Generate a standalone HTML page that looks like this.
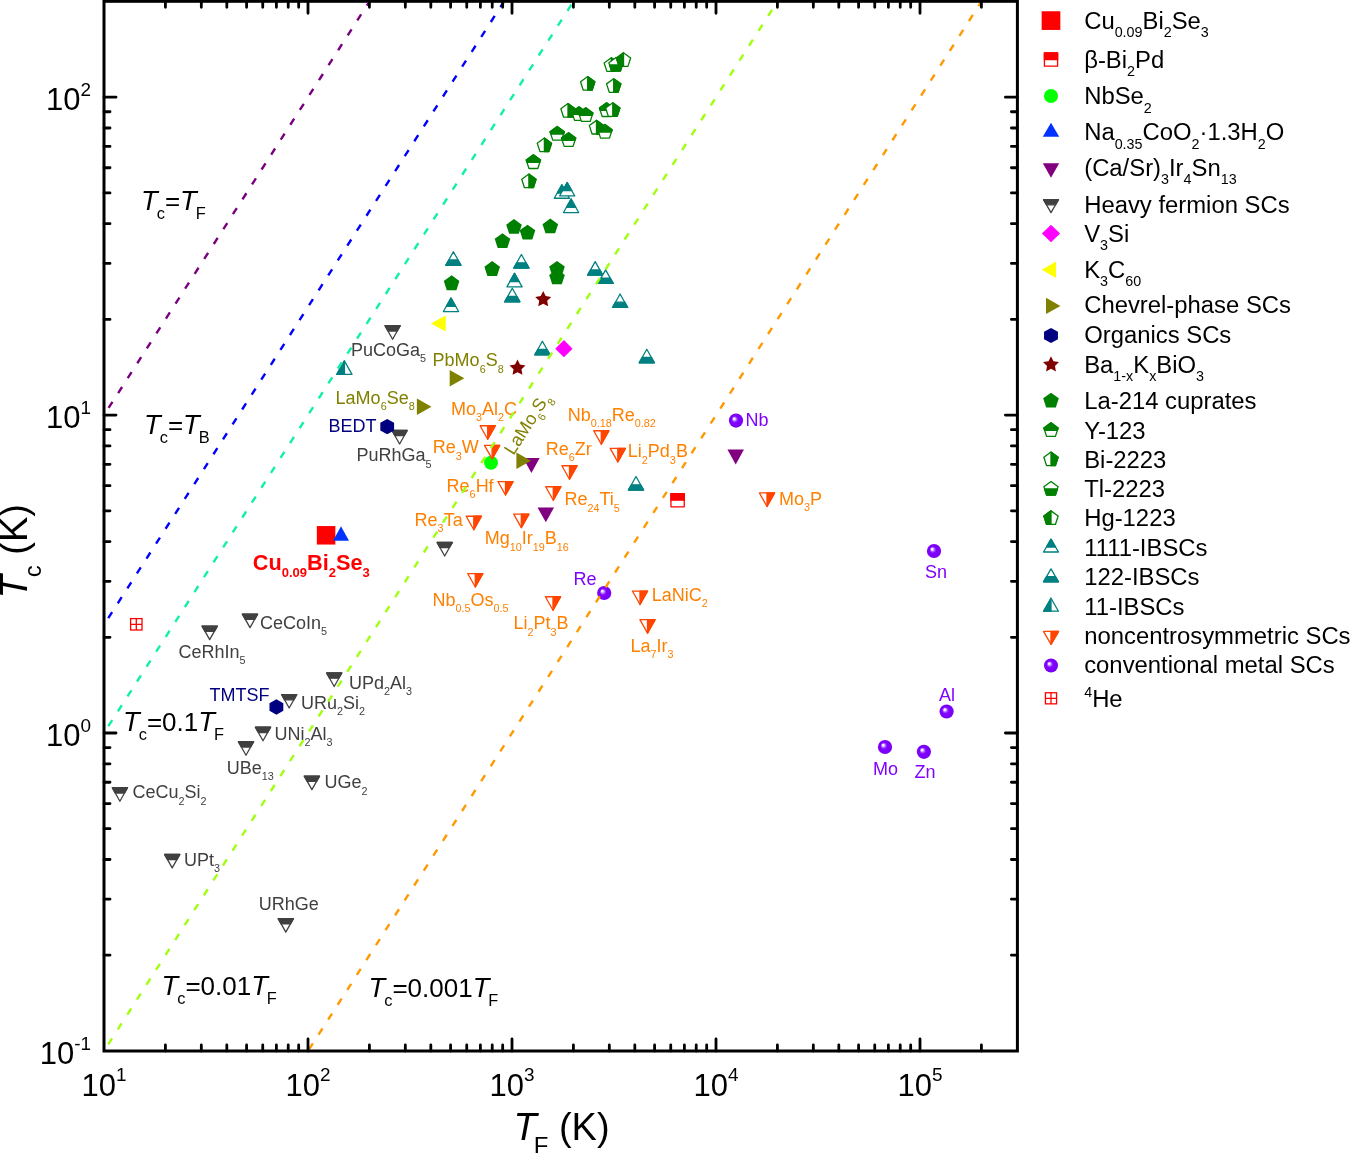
<!DOCTYPE html><html><head><meta charset="utf-8"><style>html,body{margin:0;padding:0;background:#fff;}svg{display:block;will-change:transform;}</style></head><body><svg width="1350" height="1153" viewBox="0 0 1350 1153" font-family='"Liberation Sans", sans-serif'><defs><clipPath id="frame"><rect x="105.5" y="2.8" width="910.4" height="1046.7"/></clipPath><radialGradient id="sph" cx="0.5" cy="0.5" r="0.5" fx="0.35" fy="0.35"><stop offset="0" stop-color="#fff"/><stop offset="0.12" stop-color="#f6eeff"/><stop offset="0.32" stop-color="#a050ff"/><stop offset="0.48" stop-color="#8000ff"/><stop offset="1" stop-color="#7800f4"/></radialGradient></defs><rect width="1350" height="1153" fill="#fff"/><text x="104" y="1095.7" font-size="31" fill="#000" text-anchor="middle"><tspan>10</tspan><tspan dy="-14.26" font-size="18.91">1</tspan></text>
<text x="308" y="1095.7" font-size="31" fill="#000" text-anchor="middle"><tspan>10</tspan><tspan dy="-14.26" font-size="18.91">2</tspan></text>
<text x="512" y="1095.7" font-size="31" fill="#000" text-anchor="middle"><tspan>10</tspan><tspan dy="-14.26" font-size="18.91">3</tspan></text>
<text x="716" y="1095.7" font-size="31" fill="#000" text-anchor="middle"><tspan>10</tspan><tspan dy="-14.26" font-size="18.91">4</tspan></text>
<text x="920" y="1095.7" font-size="31" fill="#000" text-anchor="middle"><tspan>10</tspan><tspan dy="-14.26" font-size="18.91">5</tspan></text>
<text x="91" y="1063.9" font-size="31" fill="#000" text-anchor="end"><tspan>10</tspan><tspan dy="-14.26" font-size="18.91">-1</tspan></text>
<text x="91" y="746" font-size="31" fill="#000" text-anchor="end"><tspan>10</tspan><tspan dy="-14.26" font-size="18.91">0</tspan></text>
<text x="91" y="428.1" font-size="31" fill="#000" text-anchor="end"><tspan>10</tspan><tspan dy="-14.26" font-size="18.91">1</tspan></text>
<text x="91" y="110.2" font-size="31" fill="#000" text-anchor="end"><tspan>10</tspan><tspan dy="-14.26" font-size="18.91">2</tspan></text>
<text x="513.5" y="1140" font-size="38" fill="#000"><tspan font-style="italic">T</tspan><tspan dy="14.06" dx="-3" font-size="23.94">F</tspan><tspan dy="-14.06"> (K)</tspan></text>
<text x="0" y="0" font-size="38" fill="#000" transform="translate(27.2 598.5) rotate(-90)"><tspan font-style="italic">T</tspan><tspan dy="14.06" dx="-2" font-size="23.94">c</tspan><tspan dy="-14.06"> (K)</tspan></text>
<text x="141" y="210.4" font-size="26" fill="#000"><tspan font-size="27.3" font-style="italic">T</tspan><tspan dy="8.84" dx="-1" font-size="16.38">c</tspan><tspan dy="-8.84">=</tspan><tspan font-size="27.3" font-style="italic">T</tspan><tspan dy="8.84" dx="-1" font-size="16.38">F</tspan></text>
<text x="144" y="433.7" font-size="26" fill="#000"><tspan font-size="27.3" font-style="italic">T</tspan><tspan dy="8.84" dx="-1" font-size="16.38">c</tspan><tspan dy="-8.84">=</tspan><tspan font-size="27.3" font-style="italic">T</tspan><tspan dy="8.84" dx="-1" font-size="16.38">B</tspan></text>
<text x="123" y="731.3" font-size="26" fill="#000"><tspan font-size="27.3" font-style="italic">T</tspan><tspan dy="8.84" dx="-1" font-size="16.38">c</tspan><tspan dy="-8.84">=0.1</tspan><tspan font-size="27.3" font-style="italic">T</tspan><tspan dy="8.84" dx="-1" font-size="16.38">F</tspan></text>
<text x="161.5" y="995.4" font-size="26" fill="#000"><tspan font-size="27.3" font-style="italic">T</tspan><tspan dy="8.84" dx="-1" font-size="16.38">c</tspan><tspan dy="-8.84">=0.01</tspan><tspan font-size="27.3" font-style="italic">T</tspan><tspan dy="8.84" dx="-1" font-size="16.38">F</tspan></text>
<text x="368.5" y="996.8" font-size="26" fill="#000"><tspan font-size="27.3" font-style="italic">T</tspan><tspan dy="8.84" dx="-1" font-size="16.38">c</tspan><tspan dy="-8.84">=0.001</tspan><tspan font-size="27.3" font-style="italic">T</tspan><tspan dy="8.84" dx="-1" font-size="16.38">F</tspan></text>
<polygon points="611.3,57.78 618.45,62.98 615.72,71.38 606.88,71.38 604.15,62.98" fill="#fff" stroke="#008000" stroke-width="1.3" stroke-linejoin="round"/>
<polygon points="611.3,57.78 618.45,62.98 615.72,71.38 611.3,71.38 611.3,57.78" fill="#008000" stroke="#008000" stroke-width="1.3" stroke-linejoin="round"/>
<polygon points="616,57.48 623.15,62.68 620.42,71.08 611.58,71.08 608.85,62.68" fill="#fff" stroke="#008000" stroke-width="1.3" stroke-linejoin="round"/>
<polygon points="622.4,65 620.42,71.08 611.58,71.08 609.6,65" fill="#008000" stroke="#008000" stroke-width="1.3" stroke-linejoin="round"/>
<polygon points="623.5,52.78 630.65,57.98 627.92,66.38 619.08,66.38 616.35,57.98" fill="#fff" stroke="#008000" stroke-width="1.3" stroke-linejoin="round"/>
<polygon points="623.5,52.78 623.5,52.78 623.5,66.38 619.08,66.38 616.35,57.98" fill="#008000" stroke="#008000" stroke-width="1.3" stroke-linejoin="round"/>
<polygon points="568,103.58 575.15,108.78 572.42,117.18 563.58,117.18 560.85,108.78" fill="#fff" stroke="#008000" stroke-width="1.3" stroke-linejoin="round"/>
<polygon points="568,103.58 575.15,108.78 572.42,117.18 568,117.18 568,103.58" fill="#008000" stroke="#008000" stroke-width="1.3" stroke-linejoin="round"/>
<polygon points="579,106.78 586.15,111.98 583.42,120.38 574.58,120.38 571.85,111.98" fill="#fff" stroke="#008000" stroke-width="1.3" stroke-linejoin="round"/>
<polygon points="579,106.78 586.15,111.98 585.4,114.3 572.6,114.3 571.85,111.98" fill="#008000" stroke="#008000" stroke-width="1.3" stroke-linejoin="round"/>
<polygon points="585.8,107.78 592.95,112.98 590.22,121.38 581.38,121.38 578.65,112.98" fill="#fff" stroke="#008000" stroke-width="1.3" stroke-linejoin="round"/>
<polygon points="585.8,107.78 592.95,112.98 592.2,115.3 579.4,115.3 578.65,112.98" fill="#008000" stroke="#008000" stroke-width="1.3" stroke-linejoin="round"/>
<polygon points="606.6,102.88 613.75,108.08 611.02,116.48 602.18,116.48 599.45,108.08" fill="#fff" stroke="#008000" stroke-width="1.3" stroke-linejoin="round"/>
<polygon points="606.6,102.88 613.75,108.08 613,110.4 600.2,110.4 599.45,108.08" fill="#008000" stroke="#008000" stroke-width="1.3" stroke-linejoin="round"/>
<polygon points="612.8,102.78 619.95,107.98 617.22,116.38 608.38,116.38 605.65,107.98" fill="#fff" stroke="#008000" stroke-width="1.3" stroke-linejoin="round"/>
<polygon points="612.8,102.78 619.95,107.98 617.22,116.38 612.8,116.38 612.8,102.78" fill="#008000" stroke="#008000" stroke-width="1.3" stroke-linejoin="round"/>
<polygon points="596.5,120.38 603.65,125.58 600.92,133.98 592.08,133.98 589.35,125.58" fill="#fff" stroke="#008000" stroke-width="1.3" stroke-linejoin="round"/>
<polygon points="596.5,120.38 603.65,125.58 600.92,133.98 596.5,133.98 596.5,120.38" fill="#008000" stroke="#008000" stroke-width="1.3" stroke-linejoin="round"/>
<polygon points="605,124.48 612.15,129.68 609.42,138.08 600.58,138.08 597.85,129.68" fill="#fff" stroke="#008000" stroke-width="1.3" stroke-linejoin="round"/>
<polygon points="605,124.48 612.15,129.68 611.4,132 598.6,132 597.85,129.68" fill="#008000" stroke="#008000" stroke-width="1.3" stroke-linejoin="round"/>
<polygon points="557.2,126.48 564.35,131.68 561.62,140.08 552.78,140.08 550.05,131.68" fill="#fff" stroke="#008000" stroke-width="1.3" stroke-linejoin="round"/>
<polygon points="557.2,126.48 564.35,131.68 563.6,134 550.8,134 550.05,131.68" fill="#008000" stroke="#008000" stroke-width="1.3" stroke-linejoin="round"/>
<polygon points="568.6,132.78 575.75,137.98 573.02,146.38 564.18,146.38 561.45,137.98" fill="#fff" stroke="#008000" stroke-width="1.3" stroke-linejoin="round"/>
<polygon points="568.6,132.78 575.75,137.98 575,140.3 562.2,140.3 561.45,137.98" fill="#008000" stroke="#008000" stroke-width="1.3" stroke-linejoin="round"/>
<polygon points="587.7,76.58 594.85,81.78 592.12,90.18 583.28,90.18 580.55,81.78" fill="#fff" stroke="#008000" stroke-width="1.3" stroke-linejoin="round"/>
<polygon points="587.7,76.58 594.85,81.78 592.12,90.18 587.7,90.18 587.7,76.58" fill="#008000" stroke="#008000" stroke-width="1.3" stroke-linejoin="round"/>
<polygon points="613.7,78.68 620.85,83.88 618.12,92.28 609.28,92.28 606.55,83.88" fill="#fff" stroke="#008000" stroke-width="1.3" stroke-linejoin="round"/>
<polygon points="613.7,78.68 620.85,83.88 618.12,92.28 613.7,92.28 613.7,78.68" fill="#008000" stroke="#008000" stroke-width="1.3" stroke-linejoin="round"/>
<polygon points="544.4,137.98 551.55,143.18 548.82,151.58 539.98,151.58 537.25,143.18" fill="#fff" stroke="#008000" stroke-width="1.3" stroke-linejoin="round"/>
<polygon points="544.4,137.98 551.55,143.18 548.82,151.58 544.4,151.58 544.4,137.98" fill="#008000" stroke="#008000" stroke-width="1.3" stroke-linejoin="round"/>
<polygon points="533.4,154.88 540.55,160.08 537.82,168.48 528.98,168.48 526.25,160.08" fill="#fff" stroke="#008000" stroke-width="1.3" stroke-linejoin="round"/>
<polygon points="533.4,154.88 540.55,160.08 539.8,162.4 527,162.4 526.25,160.08" fill="#008000" stroke="#008000" stroke-width="1.3" stroke-linejoin="round"/>
<polygon points="528.9,174.08 536.05,179.28 533.32,187.68 524.48,187.68 521.75,179.28" fill="#fff" stroke="#008000" stroke-width="1.3" stroke-linejoin="round"/>
<polygon points="528.9,174.08 536.05,179.28 533.32,187.68 528.9,187.68 528.9,174.08" fill="#008000" stroke="#008000" stroke-width="1.3" stroke-linejoin="round"/>
<polygon points="514,219 521.8,224.67 518.82,233.84 509.18,233.84 506.2,224.67" fill="#008000"/>
<polygon points="527.5,224.7 535.3,230.37 532.32,239.54 522.68,239.54 519.7,230.37" fill="#008000"/>
<polygon points="550.3,218.5 558.1,224.17 555.12,233.34 545.48,233.34 542.5,224.17" fill="#008000"/>
<polygon points="502.5,233.2 510.3,238.87 507.32,248.04 497.68,248.04 494.7,238.87" fill="#008000"/>
<polygon points="492.2,261.1 500,266.77 497.02,275.94 487.38,275.94 484.4,266.77" fill="#008000"/>
<polygon points="557,260.9 564.8,266.57 561.82,275.74 552.18,275.74 549.2,266.57" fill="#008000"/>
<polygon points="557,269.3 564.8,274.97 561.82,284.14 552.18,284.14 549.2,274.97" fill="#008000"/>
<polygon points="451.6,275.3 459.4,280.97 456.42,290.14 446.78,290.14 443.8,280.97" fill="#008000"/>
<polygon points="561.9,184.75 569.5,198.25 554.3,198.25" fill="#fff" stroke="#008080" stroke-width="1.3" stroke-linejoin="round"/>
<polygon points="561.9,184.75 566.53,192.98 557.27,192.98" fill="#008080" stroke="#008080" stroke-width="1.3" stroke-linejoin="round"/>
<polygon points="567.2,182.45 574.8,195.95 559.6,195.95" fill="#fff" stroke="#008080" stroke-width="1.3" stroke-linejoin="round"/>
<polygon points="567.2,182.45 571.83,190.68 562.57,190.68" fill="#008080" stroke="#008080" stroke-width="1.3" stroke-linejoin="round"/>
<polygon points="571.1,199.05 578.7,212.55 563.5,212.55" fill="#fff" stroke="#008080" stroke-width="1.3" stroke-linejoin="round"/>
<polygon points="571.1,199.05 575.73,207.28 566.47,207.28" fill="#008080" stroke="#008080" stroke-width="1.3" stroke-linejoin="round"/>
<polygon points="451,298.05 458.6,311.55 443.4,311.55" fill="#fff" stroke="#008080" stroke-width="1.3" stroke-linejoin="round"/>
<polygon points="451,298.05 455.63,306.28 446.37,306.28" fill="#008080" stroke="#008080" stroke-width="1.3" stroke-linejoin="round"/>
<polygon points="514.5,273.35 522.1,286.85 506.9,286.85" fill="#fff" stroke="#008080" stroke-width="1.3" stroke-linejoin="round"/>
<polygon points="514.5,273.35 519.13,281.58 509.87,281.58" fill="#008080" stroke="#008080" stroke-width="1.3" stroke-linejoin="round"/>
<polygon points="453.4,251.75 461,265.25 445.8,265.25" fill="#fff" stroke="#008080" stroke-width="1.3" stroke-linejoin="round"/>
<polygon points="458.03,259.98 461,265.25 445.8,265.25 448.77,259.98" fill="#008080" stroke="#008080" stroke-width="1.3" stroke-linejoin="round"/>
<polygon points="521.4,254.55 529,268.05 513.8,268.05" fill="#fff" stroke="#008080" stroke-width="1.3" stroke-linejoin="round"/>
<polygon points="526.03,262.78 529,268.05 513.8,268.05 516.77,262.78" fill="#008080" stroke="#008080" stroke-width="1.3" stroke-linejoin="round"/>
<polygon points="512.3,288.25 519.9,301.75 504.7,301.75" fill="#fff" stroke="#008080" stroke-width="1.3" stroke-linejoin="round"/>
<polygon points="516.93,296.48 519.9,301.75 504.7,301.75 507.67,296.48" fill="#008080" stroke="#008080" stroke-width="1.3" stroke-linejoin="round"/>
<polygon points="595.2,261.65 602.8,275.15 587.6,275.15" fill="#fff" stroke="#008080" stroke-width="1.3" stroke-linejoin="round"/>
<polygon points="599.83,269.88 602.8,275.15 587.6,275.15 590.57,269.88" fill="#008080" stroke="#008080" stroke-width="1.3" stroke-linejoin="round"/>
<polygon points="605.6,269.85 613.2,283.35 598,283.35" fill="#fff" stroke="#008080" stroke-width="1.3" stroke-linejoin="round"/>
<polygon points="610.23,278.08 613.2,283.35 598,283.35 600.97,278.08" fill="#008080" stroke="#008080" stroke-width="1.3" stroke-linejoin="round"/>
<polygon points="620.1,293.95 627.7,307.45 612.5,307.45" fill="#fff" stroke="#008080" stroke-width="1.3" stroke-linejoin="round"/>
<polygon points="624.73,302.18 627.7,307.45 612.5,307.45 615.47,302.18" fill="#008080" stroke="#008080" stroke-width="1.3" stroke-linejoin="round"/>
<polygon points="542.4,341.25 550,354.75 534.8,354.75" fill="#fff" stroke="#008080" stroke-width="1.3" stroke-linejoin="round"/>
<polygon points="547.03,349.48 550,354.75 534.8,354.75 537.77,349.48" fill="#008080" stroke="#008080" stroke-width="1.3" stroke-linejoin="round"/>
<polygon points="646.8,349.25 654.4,362.75 639.2,362.75" fill="#fff" stroke="#008080" stroke-width="1.3" stroke-linejoin="round"/>
<polygon points="651.43,357.48 654.4,362.75 639.2,362.75 642.17,357.48" fill="#008080" stroke="#008080" stroke-width="1.3" stroke-linejoin="round"/>
<polygon points="636,476.55 643.6,490.05 628.4,490.05" fill="#fff" stroke="#008080" stroke-width="1.3" stroke-linejoin="round"/>
<polygon points="640.63,484.78 643.6,490.05 628.4,490.05 631.37,484.78" fill="#008080" stroke="#008080" stroke-width="1.3" stroke-linejoin="round"/>
<polygon points="344.4,360.85 352,374.35 336.8,374.35" fill="#fff" stroke="#008080" stroke-width="1.3" stroke-linejoin="round"/>
<polygon points="344.4,360.85 344.4,360.85 344.4,374.35 336.8,374.35" fill="#008080" stroke="#008080" stroke-width="1.3" stroke-linejoin="round"/>
<circle cx="491" cy="462.7" r="7" fill="#00FF00"/>
<polygon points="523.15,458.1 539.65,458.1 531.4,472.9" fill="#800080"/>
<polygon points="537.55,507.5 554.05,507.5 545.8,522.3" fill="#800080"/>
<polygon points="727.45,449.6 743.95,449.6 735.7,464.4" fill="#800080"/>
<polygon points="385,325.75 400.2,325.75 392.6,339.25" fill="#fff" stroke="#404040" stroke-width="1.3" stroke-linejoin="round"/>
<polygon points="385,325.75 400.2,325.75 397.23,331.02 387.97,331.02" fill="#404040" stroke="#404040" stroke-width="1.3" stroke-linejoin="round"/>
<polygon points="392,430.45 407.2,430.45 399.6,443.95" fill="#fff" stroke="#404040" stroke-width="1.3" stroke-linejoin="round"/>
<polygon points="392,430.45 407.2,430.45 404.23,435.72 394.97,435.72" fill="#404040" stroke="#404040" stroke-width="1.3" stroke-linejoin="round"/>
<polygon points="202.1,626.15 217.3,626.15 209.7,639.65" fill="#fff" stroke="#404040" stroke-width="1.3" stroke-linejoin="round"/>
<polygon points="202.1,626.15 217.3,626.15 214.33,631.42 205.07,631.42" fill="#404040" stroke="#404040" stroke-width="1.3" stroke-linejoin="round"/>
<polygon points="242.4,614.15 257.6,614.15 250,627.65" fill="#fff" stroke="#404040" stroke-width="1.3" stroke-linejoin="round"/>
<polygon points="242.4,614.15 257.6,614.15 254.63,619.42 245.37,619.42" fill="#404040" stroke="#404040" stroke-width="1.3" stroke-linejoin="round"/>
<polygon points="281.6,694.55 296.8,694.55 289.2,708.05" fill="#fff" stroke="#404040" stroke-width="1.3" stroke-linejoin="round"/>
<polygon points="281.6,694.55 296.8,694.55 293.83,699.82 284.57,699.82" fill="#404040" stroke="#404040" stroke-width="1.3" stroke-linejoin="round"/>
<polygon points="326.6,672.95 341.8,672.95 334.2,686.45" fill="#fff" stroke="#404040" stroke-width="1.3" stroke-linejoin="round"/>
<polygon points="326.6,672.95 341.8,672.95 338.83,678.22 329.57,678.22" fill="#404040" stroke="#404040" stroke-width="1.3" stroke-linejoin="round"/>
<polygon points="255.4,727.25 270.6,727.25 263,740.75" fill="#fff" stroke="#404040" stroke-width="1.3" stroke-linejoin="round"/>
<polygon points="255.4,727.25 270.6,727.25 267.63,732.52 258.37,732.52" fill="#404040" stroke="#404040" stroke-width="1.3" stroke-linejoin="round"/>
<polygon points="238.4,741.75 253.6,741.75 246,755.25" fill="#fff" stroke="#404040" stroke-width="1.3" stroke-linejoin="round"/>
<polygon points="238.4,741.75 253.6,741.75 250.63,747.02 241.37,747.02" fill="#404040" stroke="#404040" stroke-width="1.3" stroke-linejoin="round"/>
<polygon points="112.3,787.75 127.5,787.75 119.9,801.25" fill="#fff" stroke="#404040" stroke-width="1.3" stroke-linejoin="round"/>
<polygon points="112.3,787.75 127.5,787.75 124.53,793.02 115.27,793.02" fill="#404040" stroke="#404040" stroke-width="1.3" stroke-linejoin="round"/>
<polygon points="304.3,776.15 319.5,776.15 311.9,789.65" fill="#fff" stroke="#404040" stroke-width="1.3" stroke-linejoin="round"/>
<polygon points="304.3,776.15 319.5,776.15 316.53,781.42 307.27,781.42" fill="#404040" stroke="#404040" stroke-width="1.3" stroke-linejoin="round"/>
<polygon points="164.6,854.35 179.8,854.35 172.2,867.85" fill="#fff" stroke="#404040" stroke-width="1.3" stroke-linejoin="round"/>
<polygon points="164.6,854.35 179.8,854.35 176.83,859.62 167.57,859.62" fill="#404040" stroke="#404040" stroke-width="1.3" stroke-linejoin="round"/>
<polygon points="278.2,918.65 293.4,918.65 285.8,932.15" fill="#fff" stroke="#404040" stroke-width="1.3" stroke-linejoin="round"/>
<polygon points="278.2,918.65 293.4,918.65 290.43,923.92 281.17,923.92" fill="#404040" stroke="#404040" stroke-width="1.3" stroke-linejoin="round"/>
<polygon points="437.1,542.45 452.3,542.45 444.7,555.95" fill="#fff" stroke="#404040" stroke-width="1.3" stroke-linejoin="round"/>
<polygon points="437.1,542.45 452.3,542.45 449.33,547.72 440.07,547.72" fill="#404040" stroke="#404040" stroke-width="1.3" stroke-linejoin="round"/>
<polygon points="387.2,418.9 394.1,422.75 394.1,430.45 387.2,434.3 380.3,430.45 380.3,422.75" fill="#000080"/>
<polygon points="276.4,699.3 283.3,703.15 283.3,710.85 276.4,714.7 269.5,710.85 269.5,703.15" fill="#000080"/>
<polygon points="416.9,398.6 431.5,406.8 416.9,415" fill="#808000"/>
<polygon points="449.7,370.1 464.3,378.3 449.7,386.5" fill="#808000"/>
<polygon points="516.4,452.5 531,460.7 516.4,468.9" fill="#808000"/>
<polygon points="430.9,323.5 445.7,315.6 445.7,331.4" fill="#FFFF00"/>
<polygon points="563.9,340.1 572.6,348.7 563.9,357.3 555.2,348.7" fill="#FF00FF"/>
<polygon points="543.2,291.1 545.67,296.1 551.19,296.9 547.19,300.8 548.14,306.29 543.2,303.7 538.26,306.29 539.21,300.8 535.21,296.9 540.73,296.1" fill="#800000"/>
<polygon points="517.5,359.6 519.97,364.6 525.49,365.4 521.49,369.3 522.44,374.79 517.5,372.2 512.56,374.79 513.51,369.3 509.51,365.4 515.03,364.6" fill="#800000"/>
<polygon points="480.1,425.75 495.3,425.75 487.7,439.25" fill="#fff" stroke="#FF4500" stroke-width="1.3" stroke-linejoin="round"/>
<polygon points="487.7,425.75 495.3,425.75 487.7,439.25 487.7,439.25" fill="#FF4500" stroke="#FF4500" stroke-width="1.3" stroke-linejoin="round"/>
<polygon points="484.5,445.35 499.7,445.35 492.1,458.85" fill="#fff" stroke="#FF4500" stroke-width="1.3" stroke-linejoin="round"/>
<polygon points="492.1,445.35 499.7,445.35 492.1,458.85 492.1,458.85" fill="#FF4500" stroke="#FF4500" stroke-width="1.3" stroke-linejoin="round"/>
<polygon points="497.9,481.55 513.1,481.55 505.5,495.05" fill="#fff" stroke="#FF4500" stroke-width="1.3" stroke-linejoin="round"/>
<polygon points="505.5,481.55 513.1,481.55 505.5,495.05 505.5,495.05" fill="#FF4500" stroke="#FF4500" stroke-width="1.3" stroke-linejoin="round"/>
<polygon points="561.9,465.75 577.1,465.75 569.5,479.25" fill="#fff" stroke="#FF4500" stroke-width="1.3" stroke-linejoin="round"/>
<polygon points="569.5,465.75 577.1,465.75 569.5,479.25 569.5,479.25" fill="#FF4500" stroke="#FF4500" stroke-width="1.3" stroke-linejoin="round"/>
<polygon points="545.7,486.75 560.9,486.75 553.3,500.25" fill="#fff" stroke="#FF4500" stroke-width="1.3" stroke-linejoin="round"/>
<polygon points="553.3,486.75 560.9,486.75 553.3,500.25 553.3,500.25" fill="#FF4500" stroke="#FF4500" stroke-width="1.3" stroke-linejoin="round"/>
<polygon points="513.7,514.15 528.9,514.15 521.3,527.65" fill="#fff" stroke="#FF4500" stroke-width="1.3" stroke-linejoin="round"/>
<polygon points="521.3,514.15 528.9,514.15 521.3,527.65 521.3,527.65" fill="#FF4500" stroke="#FF4500" stroke-width="1.3" stroke-linejoin="round"/>
<polygon points="466.2,516.25 481.4,516.25 473.8,529.75" fill="#fff" stroke="#FF4500" stroke-width="1.3" stroke-linejoin="round"/>
<polygon points="473.8,516.25 481.4,516.25 473.8,529.75 473.8,529.75" fill="#FF4500" stroke="#FF4500" stroke-width="1.3" stroke-linejoin="round"/>
<polygon points="593.7,430.75 608.9,430.75 601.3,444.25" fill="#fff" stroke="#FF4500" stroke-width="1.3" stroke-linejoin="round"/>
<polygon points="601.3,430.75 608.9,430.75 601.3,444.25 601.3,444.25" fill="#FF4500" stroke="#FF4500" stroke-width="1.3" stroke-linejoin="round"/>
<polygon points="610.2,448.35 625.4,448.35 617.8,461.85" fill="#fff" stroke="#FF4500" stroke-width="1.3" stroke-linejoin="round"/>
<polygon points="617.8,448.35 625.4,448.35 617.8,461.85 617.8,461.85" fill="#FF4500" stroke="#FF4500" stroke-width="1.3" stroke-linejoin="round"/>
<polygon points="759.4,492.95 774.6,492.95 767,506.45" fill="#fff" stroke="#FF4500" stroke-width="1.3" stroke-linejoin="round"/>
<polygon points="767,492.95 774.6,492.95 767,506.45 767,506.45" fill="#FF4500" stroke="#FF4500" stroke-width="1.3" stroke-linejoin="round"/>
<polygon points="467.7,573.55 482.9,573.55 475.3,587.05" fill="#fff" stroke="#FF4500" stroke-width="1.3" stroke-linejoin="round"/>
<polygon points="475.3,573.55 482.9,573.55 475.3,587.05 475.3,587.05" fill="#FF4500" stroke="#FF4500" stroke-width="1.3" stroke-linejoin="round"/>
<polygon points="545.4,596.75 560.6,596.75 553,610.25" fill="#fff" stroke="#FF4500" stroke-width="1.3" stroke-linejoin="round"/>
<polygon points="553,596.75 560.6,596.75 553,610.25 553,610.25" fill="#FF4500" stroke="#FF4500" stroke-width="1.3" stroke-linejoin="round"/>
<polygon points="632.4,591.05 647.6,591.05 640,604.55" fill="#fff" stroke="#FF4500" stroke-width="1.3" stroke-linejoin="round"/>
<polygon points="640,591.05 647.6,591.05 640,604.55 640,604.55" fill="#FF4500" stroke="#FF4500" stroke-width="1.3" stroke-linejoin="round"/>
<polygon points="639.9,619.65 655.1,619.65 647.5,633.15" fill="#fff" stroke="#FF4500" stroke-width="1.3" stroke-linejoin="round"/>
<polygon points="647.5,619.65 655.1,619.65 647.5,633.15 647.5,633.15" fill="#FF4500" stroke="#FF4500" stroke-width="1.3" stroke-linejoin="round"/>
<polygon points="316.85,526.05 335.35,526.05 335.35,544.55 316.85,544.55" fill="#FF0000"/>
<polygon points="341,526.3 349,540.7 333,540.7" fill="#0033FF"/>
<polygon points="670.95,493.55 684.25,493.55 684.25,506.85 670.95,506.85" fill="#fff" stroke="#FF0000" stroke-width="1.3" stroke-linejoin="round"/>
<polygon points="670.95,493.55 684.25,493.55 684.25,500.2 670.95,500.2" fill="#FF0000" stroke="#FF0000" stroke-width="1.3" stroke-linejoin="round"/>
<circle cx="736" cy="420.6" r="7.1" fill="url(#sph)"/>
<circle cx="604.2" cy="593" r="7.1" fill="url(#sph)"/>
<circle cx="934" cy="551" r="7.1" fill="url(#sph)"/>
<circle cx="946.6" cy="711.5" r="7.1" fill="url(#sph)"/>
<circle cx="885" cy="747" r="7.1" fill="url(#sph)"/>
<circle cx="923.9" cy="751.8" r="7.1" fill="url(#sph)"/>
<g fill="none" stroke="#FF0000" stroke-width="1.3"><rect x="130.6" y="618.6" width="11.4" height="11.4"/><path d="M136.3 618.6V630M130.6 624.3H142"/></g>
<text x="351" y="355.5" font-size="18" fill="#404040"><tspan>PuCoGa</tspan><tspan dy="6.48" font-size="10.8">5</tspan></text>
<text x="356.5" y="461.3" font-size="18" fill="#404040"><tspan>PuRhGa</tspan><tspan dy="6.48" font-size="10.8">5</tspan></text>
<text x="178.5" y="658" font-size="18" fill="#404040"><tspan>CeRhIn</tspan><tspan dy="6.48" font-size="10.8">5</tspan></text>
<text x="260" y="628.7" font-size="18" fill="#404040"><tspan>CeCoIn</tspan><tspan dy="6.48" font-size="10.8">5</tspan></text>
<text x="301" y="709" font-size="18" fill="#404040"><tspan>URu</tspan><tspan dy="6.48" font-size="10.8">2</tspan><tspan dy="-6.48">Si</tspan><tspan dy="6.48" font-size="10.8">2</tspan></text>
<text x="349" y="688.7" font-size="18" fill="#404040"><tspan>UPd</tspan><tspan dy="6.48" font-size="10.8">2</tspan><tspan dy="-6.48">Al</tspan><tspan dy="6.48" font-size="10.8">3</tspan></text>
<text x="274.5" y="739.6" font-size="18" fill="#404040"><tspan>UNi</tspan><tspan dy="6.48" font-size="10.8">2</tspan><tspan dy="-6.48">Al</tspan><tspan dy="6.48" font-size="10.8">3</tspan></text>
<text x="226.7" y="774" font-size="18" fill="#404040"><tspan>UBe</tspan><tspan dy="6.48" font-size="10.8">13</tspan></text>
<text x="132.5" y="798.3" font-size="18" fill="#404040"><tspan>CeCu</tspan><tspan dy="6.48" font-size="10.8">2</tspan><tspan dy="-6.48">Si</tspan><tspan dy="6.48" font-size="10.8">2</tspan></text>
<text x="324.5" y="788.1" font-size="18" fill="#404040"><tspan>UGe</tspan><tspan dy="6.48" font-size="10.8">2</tspan></text>
<text x="184" y="865.9" font-size="18" fill="#404040"><tspan>UPt</tspan><tspan dy="6.48" font-size="10.8">3</tspan></text>
<text x="258.8" y="909.9" font-size="18" fill="#404040"><tspan>URhGe</tspan></text>
<text x="335.6" y="403.7" font-size="18" fill="#808000"><tspan>LaMo</tspan><tspan dy="6.48" font-size="10.8">6</tspan><tspan dy="-6.48">Se</tspan><tspan dy="6.48" font-size="10.8">8</tspan></text>
<text x="432.6" y="366.1" font-size="18" fill="#808000"><tspan>PbMo</tspan><tspan dy="6.48" font-size="10.8">6</tspan><tspan dy="-6.48">S</tspan><tspan dy="6.48" font-size="10.8">8</tspan></text>
<text x="0" y="0" font-size="18" fill="#808000" transform="translate(513.5 456) rotate(-57.3)"><tspan>LaMo</tspan><tspan dy="6.48" font-size="10.8">6</tspan><tspan dy="-6.48">S</tspan><tspan dy="6.48" font-size="10.8">8</tspan></text>
<text x="328.6" y="432.1" font-size="18" fill="#000080"><tspan>BEDT</tspan></text>
<text x="209.4" y="701.3" font-size="18" fill="#000080"><tspan>TMTSF</tspan></text>
<text x="451" y="414.7" font-size="18" fill="#FF8000"><tspan>Mo</tspan><tspan dy="6.48" font-size="10.8">3</tspan><tspan dy="-6.48">Al</tspan><tspan dy="6.48" font-size="10.8">2</tspan><tspan dy="-6.48">C</tspan></text>
<text x="432.7" y="453.3" font-size="18" fill="#FF8000"><tspan>Re</tspan><tspan dy="6.48" font-size="10.8">3</tspan><tspan dy="-6.48">W</tspan></text>
<text x="446.6" y="491.8" font-size="18" fill="#FF8000"><tspan>Re</tspan><tspan dy="6.48" font-size="10.8">6</tspan><tspan dy="-6.48">Hf</tspan></text>
<text x="414.6" y="525.5" font-size="18" fill="#FF8000"><tspan>Re</tspan><tspan dy="6.48" font-size="10.8">3</tspan><tspan dy="-6.48">Ta</tspan></text>
<text x="545.8" y="455" font-size="18" fill="#FF8000"><tspan>Re</tspan><tspan dy="6.48" font-size="10.8">6</tspan><tspan dy="-6.48">Zr</tspan></text>
<text x="567.8" y="420.5" font-size="18" fill="#FF8000"><tspan>Nb</tspan><tspan dy="6.48" font-size="10.8">0.18</tspan><tspan dy="-6.48">Re</tspan><tspan dy="6.48" font-size="10.8">0.82</tspan></text>
<text x="627.8" y="457.3" font-size="18" fill="#FF8000"><tspan>Li</tspan><tspan dy="6.48" font-size="10.8">2</tspan><tspan dy="-6.48">Pd</tspan><tspan dy="6.48" font-size="10.8">3</tspan><tspan dy="-6.48">B</tspan></text>
<text x="564.4" y="505.2" font-size="18" fill="#FF8000"><tspan>Re</tspan><tspan dy="6.48" font-size="10.8">24</tspan><tspan dy="-6.48">Ti</tspan><tspan dy="6.48" font-size="10.8">5</tspan></text>
<text x="484.8" y="544.3" font-size="18" fill="#FF8000"><tspan>Mg</tspan><tspan dy="6.48" font-size="10.8">10</tspan><tspan dy="-6.48">Ir</tspan><tspan dy="6.48" font-size="10.8">19</tspan><tspan dy="-6.48">B</tspan><tspan dy="6.48" font-size="10.8">16</tspan></text>
<text x="432.5" y="605.6" font-size="18" fill="#FF8000"><tspan>Nb</tspan><tspan dy="6.48" font-size="10.8">0.5</tspan><tspan dy="-6.48">Os</tspan><tspan dy="6.48" font-size="10.8">0.5</tspan></text>
<text x="513.5" y="629.3" font-size="18" fill="#FF8000"><tspan>Li</tspan><tspan dy="6.48" font-size="10.8">2</tspan><tspan dy="-6.48">Pt</tspan><tspan dy="6.48" font-size="10.8">3</tspan><tspan dy="-6.48">B</tspan></text>
<text x="651.8" y="600.9" font-size="18" fill="#FF8000"><tspan>LaNiC</tspan><tspan dy="6.48" font-size="10.8">2</tspan></text>
<text x="630.5" y="651.9" font-size="18" fill="#FF8000"><tspan>La</tspan><tspan dy="6.48" font-size="10.8">7</tspan><tspan dy="-6.48">Ir</tspan><tspan dy="6.48" font-size="10.8">3</tspan></text>
<text x="779" y="504.9" font-size="18" fill="#FF8000"><tspan>Mo</tspan><tspan dy="6.48" font-size="10.8">3</tspan><tspan dy="-6.48">P</tspan></text>
<text x="745.4" y="425.8" font-size="18" fill="#8000FF"><tspan>Nb</tspan></text>
<text x="573.6" y="585.1" font-size="18" fill="#8000FF"><tspan>Re</tspan></text>
<text x="925" y="578" font-size="18" fill="#8000FF"><tspan>Sn</tspan></text>
<text x="939" y="700.8" font-size="18" fill="#8000FF"><tspan>Al</tspan></text>
<text x="873.1" y="775.2" font-size="18" fill="#8000FF"><tspan>Mo</tspan></text>
<text x="914.6" y="778.3" font-size="18" fill="#8000FF"><tspan>Zn</tspan></text>
<text x="252.8" y="569.6" font-size="21.7" fill="#FF0000" font-weight="bold"><tspan>Cu</tspan><tspan dy="7.81" font-size="13.02">0.09</tspan><tspan dy="-7.81">Bi</tspan><tspan dy="7.81" font-size="13.02">2</tspan><tspan dy="-7.81">Se</tspan><tspan dy="7.81" font-size="13.02">3</tspan></text>
<g clip-path="url(#frame)">
<line x1="104" y1="415.1" x2="369.54" y2="1.3" stroke="#780080" stroke-width="2.4" stroke-dasharray="7.2 10.51" stroke-dashoffset="9.23"/>
<line x1="104" y1="624.77" x2="504.09" y2="1.3" stroke="#0000FF" stroke-width="2.4" stroke-dasharray="7.2 10.51" stroke-dashoffset="9.89"/>
<line x1="104" y1="733" x2="573.54" y2="1.3" stroke="#10F0A8" stroke-width="2.4" stroke-dasharray="7.2 10.51" stroke-dashoffset="9.66"/>
<line x1="104" y1="1050.9" x2="777.54" y2="1.3" stroke="#A0FF10" stroke-width="2.4" stroke-dasharray="7.2 10.51" stroke-dashoffset="9.95"/>
<line x1="308" y1="1051" x2="981.6" y2="1.3" stroke="#FF9900" stroke-width="2.4" stroke-dasharray="7.2 10.51" stroke-dashoffset="15.88"/>
</g>
<polygon points="1041.65,11.25 1060.35,11.25 1060.35,29.95 1041.65,29.95" fill="#FF0000"/>
<text x="1084.2" y="29.1" font-size="23.85" fill="#000"><tspan>Cu</tspan><tspan dy="8.35" font-size="14.31">0.09</tspan><tspan dy="-8.35">Bi</tspan><tspan dy="8.35" font-size="14.31">2</tspan><tspan dy="-8.35">Se</tspan><tspan dy="8.35" font-size="14.31">3</tspan></text>
<polygon points="1044.4,53 1057.6,53 1057.6,66.2 1044.4,66.2" fill="#fff" stroke="#FF0000" stroke-width="1.3" stroke-linejoin="round"/>
<polygon points="1044.4,53 1057.6,53 1057.6,59.6 1044.4,59.6" fill="#FF0000" stroke="#FF0000" stroke-width="1.3" stroke-linejoin="round"/>
<text x="1084.2" y="67.94" font-size="23.85" fill="#000"><tspan>β-Bi</tspan><tspan dy="8.35" font-size="14.31">2</tspan><tspan dy="-8.35">Pd</tspan></text>
<circle cx="1051" cy="96" r="7" fill="#00FF00"/>
<text x="1084.2" y="104.17" font-size="23.85" fill="#000"><tspan>NbSe</tspan><tspan dy="8.35" font-size="14.31">2</tspan></text>
<polygon points="1051,122.8 1059.2,136.8 1042.8,136.8" fill="#0033FF"/>
<text x="1084.2" y="140.4" font-size="23.85" fill="#000"><tspan>Na</tspan><tspan dy="8.35" font-size="14.31">0.35</tspan><tspan dy="-8.35">CoO</tspan><tspan dy="8.35" font-size="14.31">2</tspan><tspan dy="-8.35">·1.3H</tspan><tspan dy="8.35" font-size="14.31">2</tspan><tspan dy="-8.35">O</tspan></text>
<polygon points="1042.8,163.15 1059.2,163.15 1051,177.65" fill="#800080"/>
<text x="1084.2" y="175.93" font-size="23.85" fill="#000"><tspan>(Ca/Sr)</tspan><tspan dy="8.35" font-size="14.31">3</tspan><tspan dy="-8.35">Ir</tspan><tspan dy="8.35" font-size="14.31">4</tspan><tspan dy="-8.35">Sn</tspan><tspan dy="8.35" font-size="14.31">13</tspan></text>
<polygon points="1043.55,199.75 1058.45,199.75 1051,212.65" fill="#fff" stroke="#404040" stroke-width="1.3" stroke-linejoin="round"/>
<polygon points="1043.55,199.75 1058.45,199.75 1055.55,204.78 1046.45,204.78" fill="#404040" stroke="#404040" stroke-width="1.3" stroke-linejoin="round"/>
<text x="1084.2" y="212.56" font-size="23.85" fill="#000"><tspan>Heavy fermion SCs</tspan></text>
<polygon points="1051,224.85 1060.1,233.5 1051,242.15 1041.9,233.5" fill="#FF00FF"/>
<text x="1084.2" y="241.59" font-size="23.85" fill="#000"><tspan>V</tspan><tspan dy="8.35" font-size="14.31">3</tspan><tspan dy="-8.35">Si</tspan></text>
<polygon points="1041.8,269.8 1056,261.6 1056,278" fill="#FFFF00"/>
<text x="1084.2" y="278.02" font-size="23.85" fill="#000"><tspan>K</tspan><tspan dy="8.35" font-size="14.31">3</tspan><tspan dy="-8.35">C</tspan><tspan dy="8.35" font-size="14.31">60</tspan></text>
<polygon points="1046,297.75 1060.4,305.9 1046,314.05" fill="#808000"/>
<text x="1084.2" y="312.75" font-size="23.85" fill="#000"><tspan>Chevrel-phase SCs</tspan></text>
<polygon points="1051,327.9 1057.95,331.7 1057.95,339.3 1051,343.1 1044.05,339.3 1044.05,331.7" fill="#000080"/>
<text x="1084.2" y="342.88" font-size="23.85" fill="#000"><tspan>Organics SCs</tspan></text>
<polygon points="1051,356.2 1053.47,361.2 1058.99,362 1054.99,365.9 1055.94,371.39 1051,368.8 1046.06,371.39 1047.01,365.9 1043.01,362 1048.53,361.2" fill="#800000"/>
<text x="1084.2" y="372.9" font-size="23.85" fill="#000"><tspan>Ba</tspan><tspan dy="8.35" font-size="14.31">1-x</tspan><tspan dy="-8.35">K</tspan><tspan dy="8.35" font-size="14.31">x</tspan><tspan dy="-8.35">BiO</tspan><tspan dy="8.35" font-size="14.31">3</tspan></text>
<polygon points="1051,392.68 1058.8,398.35 1055.82,407.52 1046.18,407.52 1043.2,398.35" fill="#008000"/>
<text x="1084.2" y="409.34" font-size="23.85" fill="#000"><tspan>La-214 cuprates</tspan></text>
<polygon points="1051,422.77 1058.15,427.96 1055.42,436.37 1046.58,436.37 1043.85,427.96" fill="#fff" stroke="#008000" stroke-width="1.3" stroke-linejoin="round"/>
<polygon points="1051,422.77 1058.15,427.96 1057.4,430.28 1044.6,430.28 1043.85,427.96" fill="#008000" stroke="#008000" stroke-width="1.3" stroke-linejoin="round"/>
<text x="1084.2" y="438.56" font-size="23.85" fill="#000"><tspan>Y-123</tspan></text>
<polygon points="1051,452.07 1058.15,457.26 1055.42,465.67 1046.58,465.67 1043.85,457.26" fill="#fff" stroke="#008000" stroke-width="1.3" stroke-linejoin="round"/>
<polygon points="1051,452.07 1058.15,457.26 1055.42,465.67 1051,465.67 1051,452.07" fill="#008000" stroke="#008000" stroke-width="1.3" stroke-linejoin="round"/>
<text x="1084.2" y="467.89" font-size="23.85" fill="#000"><tspan>Bi-2223</tspan></text>
<polygon points="1051,481.47 1058.15,486.66 1055.42,495.07 1046.58,495.07 1043.85,486.66" fill="#fff" stroke="#008000" stroke-width="1.3" stroke-linejoin="round"/>
<polygon points="1057.4,488.98 1055.42,495.07 1046.58,495.07 1044.6,488.98" fill="#008000" stroke="#008000" stroke-width="1.3" stroke-linejoin="round"/>
<text x="1084.2" y="497.21" font-size="23.85" fill="#000"><tspan>Tl-2223</tspan></text>
<polygon points="1051,510.87 1058.15,516.06 1055.42,524.47 1046.58,524.47 1043.85,516.06" fill="#fff" stroke="#008000" stroke-width="1.3" stroke-linejoin="round"/>
<polygon points="1051,510.87 1051,510.87 1051,524.47 1046.58,524.47 1043.85,516.06" fill="#008000" stroke="#008000" stroke-width="1.3" stroke-linejoin="round"/>
<text x="1084.2" y="526.44" font-size="23.85" fill="#000"><tspan>Hg-1223</tspan></text>
<polygon points="1051,539.2 1058.45,552 1043.55,552" fill="#fff" stroke="#008080" stroke-width="1.3" stroke-linejoin="round"/>
<polygon points="1051,539.2 1055.55,547.01 1046.45,547.01" fill="#008080" stroke="#008080" stroke-width="1.3" stroke-linejoin="round"/>
<text x="1084.2" y="556.27" font-size="23.85" fill="#000"><tspan>1111-IBSCs</tspan></text>
<polygon points="1051,568.85 1058.45,581.75 1043.55,581.75" fill="#fff" stroke="#008080" stroke-width="1.3" stroke-linejoin="round"/>
<polygon points="1055.55,576.72 1058.45,581.75 1043.55,581.75 1046.45,576.72" fill="#008080" stroke="#008080" stroke-width="1.3" stroke-linejoin="round"/>
<text x="1084.2" y="585.49" font-size="23.85" fill="#000"><tspan>122-IBSCs</tspan></text>
<polygon points="1051,598.2 1058.45,611.2 1043.55,611.2" fill="#fff" stroke="#008080" stroke-width="1.3" stroke-linejoin="round"/>
<polygon points="1051,598.2 1051,598.2 1051,611.2 1043.55,611.2" fill="#008080" stroke="#008080" stroke-width="1.3" stroke-linejoin="round"/>
<text x="1084.2" y="615.22" font-size="23.85" fill="#000"><tspan>11-IBSCs</tspan></text>
<polygon points="1043.45,631.45 1058.55,631.45 1051,644.35" fill="#fff" stroke="#FF4500" stroke-width="1.3" stroke-linejoin="round"/>
<polygon points="1051,631.45 1058.55,631.45 1051,644.35 1051,644.35" fill="#FF4500" stroke="#FF4500" stroke-width="1.3" stroke-linejoin="round"/>
<text x="1084.2" y="644.24" font-size="23.85" fill="#000"><tspan>noncentrosymmetric SCs</tspan></text>
<circle cx="1051" cy="665.5" r="7" fill="url(#sph)"/>
<text x="1084.2" y="672.57" font-size="23.85" fill="#000"><tspan>conventional metal SCs</tspan></text>
<g fill="none" stroke="#FF0000" stroke-width="1.3"><rect x="1045.45" y="692.75" width="11.1" height="11.1"/><path d="M1051 692.75V703.85M1045.45 698.3H1056.55"/></g>
<text x="1084.2" y="706.9" font-size="23.85" fill="#000"><tspan dy="-9.54" font-size="14.31">4</tspan><tspan dy="9.54">He</tspan></text><rect x="104" y="1.3" width="913.4" height="1049.7" fill="none" stroke="#000" stroke-width="3"/><path d="M165.41 1051v-6M165.41 1.3v6M201.33 1051v-6M201.33 1.3v6M226.82 1051v-6M226.82 1.3v6M246.59 1051v-6M246.59 1.3v6M262.74 1051v-6M262.74 1.3v6M276.4 1051v-6M276.4 1.3v6M288.23 1051v-6M288.23 1.3v6M298.67 1051v-6M298.67 1.3v6M308 1051v-12M308 1.3v12M369.41 1051v-6M369.41 1.3v6M405.33 1051v-6M405.33 1.3v6M430.82 1051v-6M430.82 1.3v6M450.59 1051v-6M450.59 1.3v6M466.74 1051v-6M466.74 1.3v6M480.4 1051v-6M480.4 1.3v6M492.23 1051v-6M492.23 1.3v6M502.67 1051v-6M502.67 1.3v6M512 1051v-12M512 1.3v12M573.41 1051v-6M573.41 1.3v6M609.33 1051v-6M609.33 1.3v6M634.82 1051v-6M634.82 1.3v6M654.59 1051v-6M654.59 1.3v6M670.74 1051v-6M670.74 1.3v6M684.4 1051v-6M684.4 1.3v6M696.23 1051v-6M696.23 1.3v6M706.67 1051v-6M706.67 1.3v6M716 1051v-12M716 1.3v12M777.41 1051v-6M777.41 1.3v6M813.33 1051v-6M813.33 1.3v6M838.82 1051v-6M838.82 1.3v6M858.59 1051v-6M858.59 1.3v6M874.74 1051v-6M874.74 1.3v6M888.4 1051v-6M888.4 1.3v6M900.23 1051v-6M900.23 1.3v6M910.67 1051v-6M910.67 1.3v6M920 1051v-12M920 1.3v12M981.41 1051v-6M981.41 1.3v6M104 955.2h6M1017.4 955.2h-6M104 899.22h6M1017.4 899.22h-6M104 859.51h6M1017.4 859.51h-6M104 828.7h6M1017.4 828.7h-6M104 803.53h6M1017.4 803.53h-6M104 782.24h6M1017.4 782.24h-6M104 763.81h6M1017.4 763.81h-6M104 747.55h6M1017.4 747.55h-6M104 733h12M1017.4 733h-12M104 637.3h6M1017.4 637.3h-6M104 581.32h6M1017.4 581.32h-6M104 541.61h6M1017.4 541.61h-6M104 510.8h6M1017.4 510.8h-6M104 485.63h6M1017.4 485.63h-6M104 464.34h6M1017.4 464.34h-6M104 445.91h6M1017.4 445.91h-6M104 429.65h6M1017.4 429.65h-6M104 415.1h12M1017.4 415.1h-12M104 319.4h6M1017.4 319.4h-6M104 263.42h6M1017.4 263.42h-6M104 223.71h6M1017.4 223.71h-6M104 192.9h6M1017.4 192.9h-6M104 167.73h6M1017.4 167.73h-6M104 146.44h6M1017.4 146.44h-6M104 128.01h6M1017.4 128.01h-6M104 111.75h6M1017.4 111.75h-6M104 97.2h12M1017.4 97.2h-12" stroke="#000" stroke-width="2.8" stroke-linecap="round" fill="none"/></svg></body></html>
